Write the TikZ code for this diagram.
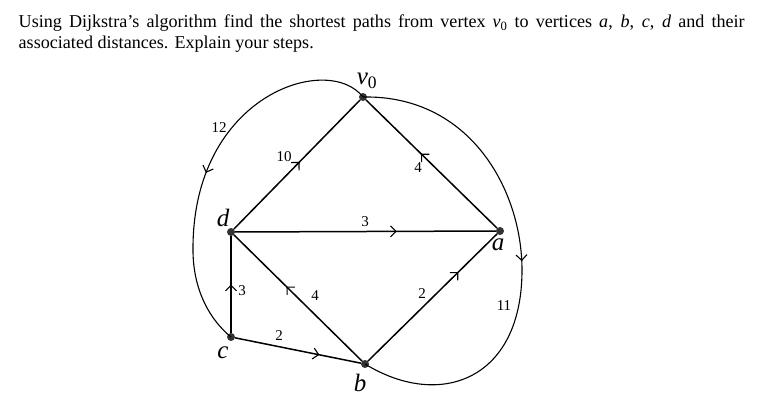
\documentclass[tikz,border=0pt]{standalone}
\usepackage{fontspec}
\setmainfont{Liberation Serif}
\usetikzlibrary{arrows.meta,decorations.markings}
\tikzset{
  vtx/.style={circle,fill=black!80,inner sep=0pt,minimum size=8pt},
  vlab/.style={font=\fontsize{25}{27}\selectfont\itshape,inner sep=0pt},
  wlab/.style={font=\fontsize{15}{16}\selectfont,inner sep=0pt},
  edge/.style={line width=1.5pt},
  curve/.style={line width=1.1pt},
  midarrow/.style={postaction={decorate,decoration={markings,
      mark=at position #1 with {\arrow[line width=1.1pt]{Straight Barb[length=5.5pt,width=11pt]}}}}}
}
\begin{document}
\begin{tikzpicture}[x=1pt,y=-1pt]
\useasboundingbox (0,0) rectangle (763,407);
% text
\node[anchor=base west,inner sep=0pt,font=\fontsize{18.1}{20}\selectfont] (t1) at (18.5,27.7)
  {\makebox[726pt][s]{Using Dijkstra's algorithm find the shortest paths from vertex \textit{v}\textsubscript{0} to vertices \textit{a}, \textit{b}, \textit{c}, \textit{d} and their}};
\node[anchor=base west,inner sep=0pt,font=\fontsize{18.1}{20}\selectfont] (t2) at (18.5,48.3)
  {associated distances. Explain your steps.};
% vertices
\node[vtx] (v0) at (363,97) {};
\node[vtx] (d) at (231,232) {};
\node[vtx] (a) at (500,231) {};
\node[vtx] (c) at (231,337) {};
\node[vtx] (b) at (365,364) {};
% vertex labels
\node[vlab] (lv0) at (367,81) {v\textsubscript{\upshape 0}};
\node[vlab] (ld) at (223,218) {d};
\node[vlab] (la) at (498,245) {a};
\node[vlab] (lc) at (223,353) {c};
\node[vlab] (lb) at (360,383) {b};
% straight edges
\draw[edge,midarrow=0.52] (d) -- (v0);
\draw[edge,midarrow=0.62] (d) -- (a);
\draw[edge,midarrow=0.58] (a) -- (v0);
\draw[edge,midarrow=0.5] (c) -- (d);
\draw[edge,midarrow=0.59] (b) -- (d);
\draw[edge,midarrow=0.67] (c) -- (b);
\draw[edge,midarrow=0.70] (b) -- (a);
% curved edges
\coordinate (p12) at (193,250);
\coordinate (p11) at (522,270);
\draw[curve,midarrow=0.535] (v0.center) .. controls (328,52) and (192,95) .. (p12)
   .. controls (193,290) and (210,320) .. (c.center);
\draw[curve,midarrow=0.51] (v0.center) .. controls (470,95) and (522,190) .. (p11)
   .. controls (522,380) and (440,410) .. (b.center);
% weights
\node[wlab] (w12) at (219,128) {12};
\node[wlab] (w10) at (284,157) {10};
\node[wlab] (w3a) at (365,222) {3};
\node[wlab] (w4a) at (418,168) {4};
\node[wlab] (w3c) at (242,291) {3};
\node[wlab] (w4b) at (315,296) {4};
\node[wlab] (w2c) at (279,336) {2};
\node[wlab] (w2b) at (422,294) {2};
\node[wlab] (w11) at (504,306) {11};
\end{tikzpicture}
\end{document}
